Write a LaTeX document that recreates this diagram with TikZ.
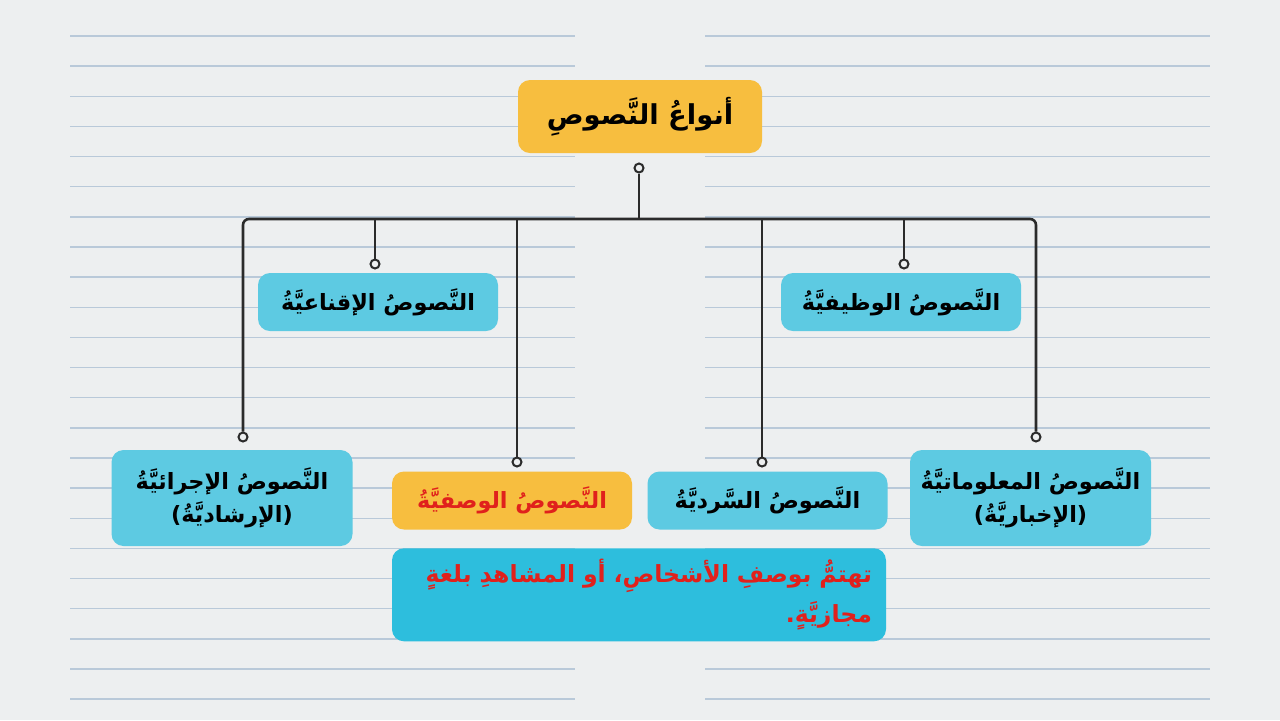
\documentclass[tikz,border=0pt]{standalone}
\usepackage{fontspec}
\newfontfamily\arabicfont[Script=Arabic]{DejaVu Sans}
\TeXXeTstate=1
\usetikzlibrary{positioning}
\definecolor{gul}{HTML}{F7BE3F}
\definecolor{bla}{HTML}{5DCAE2}
\definecolor{blamork}{HTML}{2DBEDD}
\definecolor{rod}{HTML}{E0211C}
\definecolor{papir}{HTML}{EDEFF0}
\definecolor{strek}{HTML}{B9C9D9}
\definecolor{linjefarge}{HTML}{2B2B2B}
\newcommand{\artekst}[1]{\beginR #1\endR}
\tikzset{
    %Define style for boxes
    boks/.style={
           rectangle,
           rounded corners=6pt,
           fill=bla,
           minimum width=120pt,
           minimum height=29pt,
           align=center,
           font=\arabicfont\bfseries\fontsize{11.2}{16.5}\selectfont},
    gulboks/.style={boks, fill=gul},
    hoyboks/.style={boks, minimum width=120.5pt, minimum height=48pt},
    % Define style for connector lines
    linje/.style={
           draw=linjefarge,
           line width=1.3pt,
           rounded corners=3pt},
    % Define style for the small rings
    ring/.style={
           circle,
           draw=linjefarge,
           line width=1pt,
           fill=papir,
           inner sep=0pt,
           minimum size=4.5pt},
    papirstrek/.style={draw=strek, line width=0.7pt}
}
\begin{document}
\begin{tikzpicture}[x=0.5pt, y=-0.5pt]
 \fill[papir] (0,0) rectangle (1280,720);
 \foreach \i in {0,...,22} {
   \draw[papirstrek] (70,{36+30.14*\i}) -- (575,{36+30.14*\i});
   \draw[papirstrek] (705,{36+30.14*\i}) -- (1210,{36+30.14*\i});
 }
 \node[gulboks, minimum width=122pt, minimum height=36.5pt,
       font=\arabicfont\bfseries\fontsize{13.7}{18}\selectfont] (typer) at (640,116.5) {\artekst{أنواعُ النَّصوصِ}};
 \node[boks] (iqnaa) at (378,302) {\artekst{النَّصوصُ الإقناعيَّةُ}};
 \node[boks] (wadhifi) at (901,302) {\artekst{النَّصوصُ الوظيفيَّةُ}};
 \node[hoyboks] (ijraai) at (232,498) {\artekst{النَّصوصُ الإجرائيَّةُ}\\\artekst{(الإرشاديَّةُ)}};
 \node[gulboks, text=rod] (wasfi) at (512,500.5) {\artekst{النَّصوصُ الوصفيَّةُ}};
 \node[boks] (sardi) at (767.5,500.5) {\artekst{النَّصوصُ السَّرديَّةُ}};
 \node[hoyboks] (maalumat) at (1030.5,498) {\artekst{النَّصوصُ المعلوماتيَّةُ}\\\artekst{(الإخباريَّةُ)}};
 \node[boks, fill=blamork, text=rod, minimum height=46.5pt, text width=233pt,
       inner xsep=7pt, align=right, below=9pt of wasfi.south west, anchor=north west,
       font=\arabicfont\bfseries\fontsize{11.8}{20}\selectfont]
       (beskrivelse) {\artekst{تهتمُّ بوصفِ الأشخاصِ، أو المشاهدِ بلغةٍ}\\\artekst{مجازيَّةٍ.}};
 % rings
 \node[ring] (r0) at (639,168) {};
 \node[ring] (r1) at (243,437) {};
 \node[ring] (r2) at (375,264) {};
 \node[ring] (r3) at (517,462) {};
 \node[ring] (r4) at (762,462) {};
 \node[ring] (r5) at (904,264) {};
 \node[ring] (r6) at (1036,437) {};
 \coordinate (stamme) at (639,219);
 \draw[linje] (r0) -- (stamme);
 \draw[linje] (r1) -- (r1 |- stamme) -- (r6 |- stamme) -- (r6);
 \foreach \r in {r2,r3,r4,r5}
   \draw[linje] (\r) -- (\r |- stamme);
\end{tikzpicture}
\end{document}
